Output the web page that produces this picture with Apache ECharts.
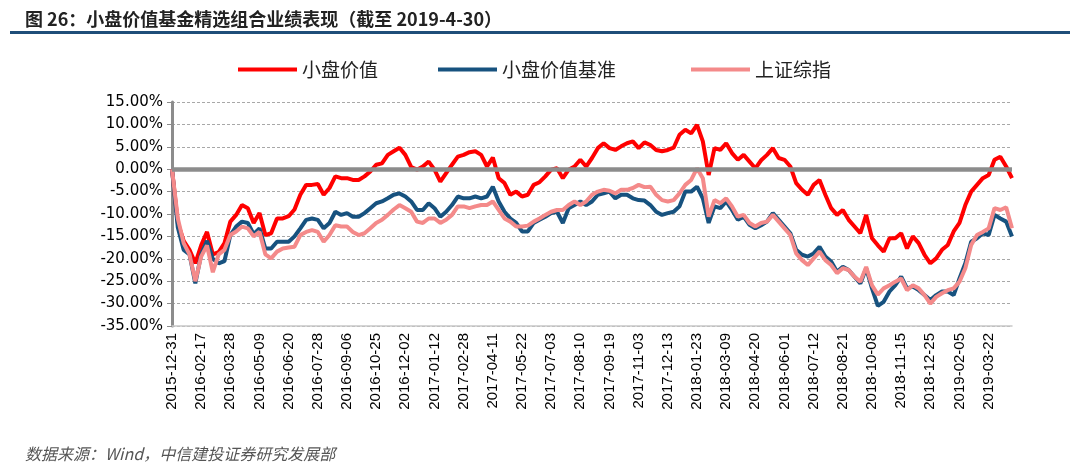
<!DOCTYPE html>
<html>
<head>
<meta charset="utf-8">
<script src="https://cdn.jsdelivr.net/npm/echarts@6/dist/echarts.min.js"></script>
<style>
html,body{margin:0;padding:0;background:#fff;}
#chart{width:1080px;height:475px;}
</style>
</head>
<body>
<div id="chart"></div>
<script>
// Tick labels shown on the x axis (every 5th category)
const tickLabels = ['2015-12-31','2016-02-17','2016-03-28','2016-05-09','2016-06-20','2016-07-28','2016-09-06','2016-10-25','2016-12-02','2017-01-12','2017-02-28','2017-04-11','2017-05-22','2017-07-03','2017-08-10','2017-09-19','2017-11-03','2017-12-13','2018-01-23','2018-03-09','2018-04-20','2018-06-01','2018-07-12','2018-08-21','2018-10-08','2018-11-15','2018-12-25','2019-02-05','2019-03-22'];

const seriesNames = ['小盘价值','小盘价值基准','上证综指'];

// 小盘价值 (%)
const smallValue = [0,-12,-16,-18,-21,-17,-14,-19,-18.5,-16.5,-11.7,-10.2,-8,-8.7,-12,-9.8,-14.7,-14.3,-11,-11,
-10.5,-9,-5.7,-3.5,-3.5,-3.3,-5.7,-4.2,-1.6,-2,-2,-2.4,-2.4,-1.6,-0.5,1,1.3,3.2,4,4.8,
3.2,0.5,-0.1,0.6,1.7,-0.1,-2.8,-0.9,1,2.8,3.2,3.8,4,3.2,0.6,2.6,-2,-3.1,-5.7,-5,
-6.1,-5.7,-3.5,-2.9,-1.6,-0.1,0.2,-2,-0.1,0.6,2.1,0.6,2.5,4.7,5.8,4.7,4.3,5.1,5.8,6.2,
4.7,6,5.4,4.3,4,4.3,4.8,7.7,8.8,8,9.9,6.2,-1.3,4.7,4.3,5.8,3.6,2.1,3.2,1.7,
0.2,2,3.2,4.7,2.5,2.1,0.6,-3.1,-4.6,-5.7,-3.5,-2.4,-5.7,-8.7,-10.2,-9.1,-11.3,-12.8,-14.3,-10.2,
-15.4,-17,-18.4,-15.4,-15.4,-14.3,-17.7,-15,-16.5,-19.1,-21,-19.9,-18,-16.9,-13.9,-12,-8,-5,-3.5,-2,
-1.3,2.1,2.8,0.6,-2];

// 小盘价值基准 (%)
const smallValueBench = [0,-13,-18,-19,-25.5,-19,-16,-20,-21,-20.5,-14.7,-12.8,-11.7,-12,-14.5,-13.2,-17.7,-17.7,-16.2,-16.2,
-16.2,-15,-13.2,-11.3,-11,-11.3,-13.2,-12,-9.5,-10.2,-9.8,-10.6,-10.6,-9.8,-8.7,-7.6,-7.2,-6.5,-5.7,-5.4,
-6.1,-7.2,-9.1,-9.1,-7.6,-8.7,-10.6,-9.5,-8,-6.1,-6.5,-6.5,-6.1,-6.5,-6.1,-3.9,-7.2,-9.5,-11,-12,
-13.9,-13.9,-12,-11.3,-10.6,-9.8,-9.5,-12,-8.7,-8,-7.2,-8,-7.2,-5.7,-5.4,-5,-6.5,-5.7,-5.7,-6.5,
-6.9,-7,-8,-9.5,-10.2,-9.8,-9.5,-8.3,-5,-5,-3.9,-6.5,-12,-8.3,-8.7,-7.2,-9.1,-11.3,-10.6,-12.4,
-13.2,-12.5,-11.7,-9.8,-11.3,-12.8,-14.3,-18,-19.1,-19.5,-18.8,-17.3,-19.5,-20.6,-22.9,-21.8,-22.5,-24,-25.5,-22.1,
-26.6,-30.5,-29.6,-27.3,-25.9,-24,-26.6,-26.2,-27,-28.1,-29.2,-28.1,-27.3,-27.3,-28.1,-24.4,-21,-16.2,-15.4,-14.3,
-14.7,-10.2,-11,-11.7,-15];

// 上证综指 (%)
const shComposite = [0,-11,-16.5,-19,-25,-19.5,-17,-23,-19,-18,-14.7,-13.9,-12.8,-13.2,-15,-14,-19,-19.9,-18.4,-17.7,
-17.5,-17.3,-14.7,-14,-13.6,-14,-16.2,-14.7,-12.5,-12.8,-12.8,-14,-14.7,-14.3,-13.2,-12,-11.3,-10.2,-9,-8,
-8.7,-9.5,-11.7,-12,-11,-11,-12,-11.3,-10.2,-8.3,-8.3,-8.7,-8.3,-8,-8,-7.2,-9.1,-11,-11.7,-12.8,
-12.8,-12.6,-11.7,-11,-10.2,-9.5,-9.1,-9.1,-8,-7.2,-8,-7.2,-5.7,-5,-4.6,-4.8,-5.4,-4.6,-4.6,-4.2,
-3.5,-4,-3.9,-5.7,-6.9,-7.2,-6.9,-5.4,-3.5,-2.4,0.2,-2,-10.6,-6.9,-7.6,-6.5,-8.3,-10.6,-10.2,-12,
-12.8,-12,-11.7,-10.2,-11.7,-13.2,-14.7,-18.8,-20.3,-21.4,-19.9,-18.4,-20.3,-21.4,-23.2,-22.1,-22.5,-24,-25.1,-21.8,
-25.9,-28,-26.6,-25.9,-25.1,-24.4,-27,-25.9,-26.6,-28.1,-30,-28.5,-27.7,-27,-26.6,-25.1,-22.1,-16.9,-14.7,-14,
-13.2,-8.7,-9.1,-8.5,-13.2];

// Build category list: each tick label followed by 4 unlabeled sample slots
const STEP = 5;
const categories = [];
tickLabels.forEach(function (t) {
  categories.push(t);
  for (let j = 1; j < STEP; j++) categories.push(t + ' #' + j);
});

const chart = echarts.init(document.getElementById('chart'), null, {renderer: 'canvas'});
const cjk = '"Noto Sans CJK SC", "Noto Sans", sans-serif';

function legendAt(left, name) {
  return {
    data: [name], left: left, top: 60, padding: 0,
    icon: 'rect', itemWidth: 59, itemHeight: 4, itemGap: 0,
    textStyle: {fontFamily: cjk, fontSize: 19, color: '#222', padding: [0, 0, 0, 0]},
    selectedMode: false
  };
}

const option = {
  animation: false,
  backgroundColor: '#fff',
  title: [
    {text: '图 26：小盘价值基金精选组合业绩表现（截至 2019-4-30）', left: 20, top: 5,
     textStyle: {fontFamily: cjk, fontSize: 18, fontWeight: 'bold', color: '#222'}},
    {text: '数据来源：Wind，中信建投证券研究发展部', left: 20, top: 441,
     textStyle: {fontFamily: cjk, fontSize: 16, fontWeight: 'normal', fontStyle: 'italic', color: '#555'}}
  ],
  graphic: [
    {type: 'rect', left: 10, top: 31, shape: {width: 1060, height: 3}, style: {fill: '#1f4e79'}, silent: true}
  ],
  legend: [legendAt(238, seriesNames[0]), legendAt(438, seriesNames[1]), legendAt(691, seriesNames[2])],
  grid: {left: 172, right: 68, top: 102, bottom: 149, containLabel: false},
  xAxis: {
    type: 'category', data: categories, boundaryGap: false,
    axisLine: {show: true, onZero: false, lineStyle: {color: '#c8c8c8', width: 1.5}},
    axisTick: {show: false},
    axisLabel: {
      interval: function (idx) { return idx % STEP === 0; },
      rotate: 90, margin: 7,
      formatter: function (v) { return tickLabels.indexOf(v) >= 0 ? v : ''; },
      fontFamily: '"Liberation Sans", Arial, sans-serif', fontSize: 15, color: '#000'
    },
    splitLine: {show: false}
  },
  yAxis: {
    type: 'value', min: -35, max: 15, interval: 5,
    axisLine: {show: true, lineStyle: {color: '#8c8c8c', width: 3}},
    axisTick: {show: true, length: 5, lineStyle: {color: '#8c8c8c', width: 1}},
    axisLabel: {
      margin: 9, fontFamily: '"DejaVu Sans", Verdana, sans-serif', fontSize: 15, color: '#000',
      formatter: function (v) { return v.toFixed(2) + '%'; }
    },
    splitLine: {show: true, lineStyle: {color: '#a8a8a8', width: 1, type: [3, 2]}}
  },
  series: [
    {
      name: '__zero', type: 'line', data: [], z: 1, silent: true,
      markLine: {
        silent: true, symbol: ['none', 'none'], label: {show: false},
        lineStyle: {color: '#8c8c8c', width: 4.5, type: 'solid'},
        data: [{yAxis: 0}], animation: false
      }
    },
    {name: seriesNames[0], type: 'line', data: smallValue, showSymbol: false, z: 3,
     lineStyle: {color: '#ff0000', width: 4}, itemStyle: {color: '#ff0000'}},
    {name: seriesNames[1], type: 'line', data: smallValueBench, showSymbol: false, z: 3,
     lineStyle: {color: '#17527f', width: 4}, itemStyle: {color: '#17527f'}},
    {name: seriesNames[2], type: 'line', data: shComposite, showSymbol: false, z: 3,
     lineStyle: {color: '#f48a8a', width: 4}, itemStyle: {color: '#f48a8a'}}
  ]
};
chart.setOption(option);
</script>
</body>
</html>
